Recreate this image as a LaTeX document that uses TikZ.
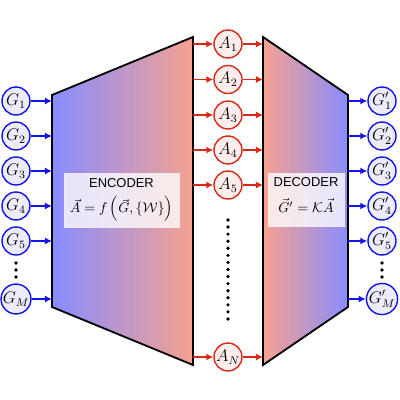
\documentclass[tikz,border=0pt]{standalone}
\usepackage{fontspec}
\setsansfont{Liberation Sans}
\usetikzlibrary{arrows.meta,calc}
\definecolor{gblue}{RGB}{20,20,240}
\definecolor{gfill}{RGB}{236,236,252}
\definecolor{ared}{RGB}{218,40,24}
\definecolor{afill}{RGB}{253,238,236}
\definecolor{shblue}{RGB}{136,140,255}
\definecolor{shsalmon}{RGB}{246,162,144}
\begin{document}
\begin{tikzpicture}[x=0.025cm,y=-0.025cm,
  gnode/.style={circle,draw=gblue,fill=gfill,line width=1pt,minimum size=0.7cm,inner sep=0pt,font=\large},
  anode/.style={circle,draw=ared,fill=afill,line width=1pt,minimum size=0.7cm,inner sep=0pt,font=\large},
  barrow/.style={draw=gblue,line width=1pt,-{Latex[length=5pt,width=5pt]}},
  rarrow/.style={draw=ared,line width=1pt,-{Latex[length=5pt,width=5pt]}},
  block/.style={draw=black,line width=1.3pt,line join=miter},
  labelbox/.style={draw=white!85!gray,line width=0.4pt,fill=white,fill opacity=0.78,text opacity=1,inner sep=0pt,align=center},
  dotmark/.style={fill=black,circle,inner sep=0pt,minimum size=2.6pt}]
\useasboundingbox (0,0) rectangle (400,400);

% encoder and decoder shapes
\shade[left color=shblue,right color=shsalmon] (52,95) -- (193,37) -- (193,365) -- (52,307) -- cycle;
\draw[block] (52,95) -- (193,37) -- (193,365) -- (52,307) -- cycle;
\shade[left color=shsalmon,right color=shblue] (263,37) -- (348,95) -- (348,307) -- (263,365) -- cycle;
\draw[block] (263,37) -- (348,95) -- (348,307) -- (263,365) -- cycle;

\coordinate (encL) at (52,200);
\coordinate (encR) at (193,200);
\coordinate (decL) at (263,200);
\coordinate (decR) at (348,200);

% label boxes
\node[labelbox,minimum width=115*0.025cm,minimum height=54*0.025cm] (encbox) at (121.5,200)
  {{\sffamily\fontsize{9.2}{11}\selectfont ENCODER}\\[6pt]$\vec{A}=f\left(\vec{G},\{\mathcal{W}\}\right)$};
\node[labelbox,minimum width=76*0.025cm,minimum height=53*0.025cm] (decbox) at (306,199.5)
  {{\sffamily\fontsize{9.2}{11}\selectfont DECODER}\\[6pt]$\vphantom{\left(\vec{G}\right)}\vec{G}'=\mathcal{K}\vec{A}$};

% input nodes
\foreach \n/\y/\l in {1/101/1,2/136/2,3/171/3,4/206/4,5/241/5,M/299/M}{
  \node[gnode] (g\n) at (16,\y) {$G_{\l}$};
  \draw[barrow] (g\n) -- (g\n -| encL);
  \node[gnode] (h\n) at (382,\y) {$G'_{\l}$};
  \draw[barrow] (h\n -| decR) -- (h\n);
}
% latent nodes
\foreach \n/\y/\l in {1/44/1,2/79.5/2,3/115/3,4/150/4,5/185/5,N/357/N}{
  \node[anode] (a\n) at (228,\y) {$A_{\l}$};
  \draw[rarrow] (a\n -| encR) -- (a\n);
  \draw[rarrow] (a\n) -- (a\n -| decL);
}
% dots
\foreach \y in {263,270,277}{
  \node[dotmark] at (16,\y) {};
  \node[dotmark] at (382,\y) {};
}
\foreach \i in {0,...,14}{
  \node[dotmark] at (228,220+\i*7.07) {};
}
\end{tikzpicture}
\end{document}
